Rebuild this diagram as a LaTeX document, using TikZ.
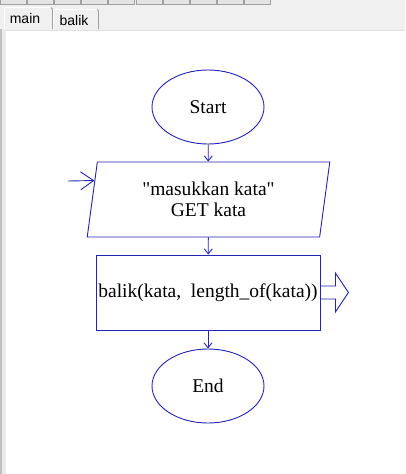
\documentclass[tikz,border=0pt]{standalone}
\usepackage{fontspec}
\newfontfamily\flowfont{Liberation Serif}
\newfontfamily\uifont{Liberation Sans}
\usetikzlibrary{shapes.geometric,arrows.meta,calc}

\definecolor{flowblue}{RGB}{36,36,180}
\definecolor{panelgray}{RGB}{240,240,240}
\definecolor{edgegray}{RGB}{160,160,160}

\tikzset{
    terminal/.style={draw=flowblue, ellipse, minimum width=112pt, minimum height=74pt, inner sep=0pt, font=\flowfont\fontsize{19.5}{21}\selectfont},
    iobox/.style={draw=flowblue, trapezium, trapezium left angle=80, trapezium right angle=100, trapezium stretches=true, minimum width=243pt, minimum height=75pt, inner sep=0pt, align=center, font=\flowfont\fontsize{19.5}{20.5}\selectfont},
    callbox/.style={draw=flowblue, rectangle, minimum width=224pt, minimum height=75pt, inner sep=0pt, font=\flowfont\fontsize{19.5}{21}\selectfont},
    flow/.style={draw=flowblue, line width=0.9pt, -{Straight Barb[length=5pt,width=8pt]}},
    tabtext/.style={font=\uifont\fontsize{14}{16}\selectfont, inner sep=0pt}
}

\begin{document}
\begin{tikzpicture}[x=1pt, y=-1pt, line width=0.9pt]
    \useasboundingbox (0,0) rectangle (405,474);
    % window background and toolbar
    \fill[panelgray] (0,0) rectangle (405,474);
    \foreach \i in {0,...,9}
        \draw[line width=0.8pt, draw=edgegray, fill=panelgray!95!black] ({\i*27.2},-3) rectangle ({\i*27.2+26},4);
    % tabs
    \fill[panelgray] (53,29) -- (53,9) -- (97,9) -- (99,11) -- (99,29) -- cycle;
    \draw[white] (53.5,29) -- (53.5,9.5) -- (97,9.5);
    \draw[edgegray] (97,9.5) -- (98.5,11) -- (98.5,29);
    \fill[panelgray] (4,31) -- (4,9) -- (6,7) -- (51,7) -- (53,9) -- (53,31) -- cycle;
    \draw[white] (4.5,31) -- (4.5,9) -- (6,7.5) -- (51,7.5);
    \draw[edgegray] (51,7.5) -- (52.5,9) -- (52.5,29);
    \node[tabtext] (tabmain) at (25,18) {main};
    \node[tabtext] (tabbalik) at (74,20) {balik};
    % flowchart panel
    \fill[black!25] (0,29) rectangle (2,474);
    \fill[black!8] (2,29) rectangle (5.5,474);
    \fill[white] (5.5,30.5) rectangle (405,474);
    \draw[black!12] (5.5,30) -- (405,30);

    \node[terminal] (start) at (208,107) {Start};
    \node[iobox] (input) at (208.5,199.5) {"masukkan kata"\\GET kata};
    \node[callbox] (call) at (208,292.5) {balik(kata,\ \ length\_of(kata))};
    \node[terminal] (end) at (208,386) {End};

    \coordinate (feed) at (68,181);
    \draw[flow, -{Straight Barb[length=13pt,width=18pt]}] (feed) -- ($(input.top left corner)!0.25!(input.bottom left corner)$);
    \draw[flow] (start) -- (input);
    \draw[flow] (input) -- (call);
    \draw[flow] (call) -- (end);
    % output arrow
    \draw[flowblue, line join=miter] (call.east) ++(0,-6.5) -- ++(15,0) -- ++(0,-13) -- ++(13,19.5) -- ++(-13,19.5) -- ++(0,-13) -- ++(-15,0);
\end{tikzpicture}
\end{document}
